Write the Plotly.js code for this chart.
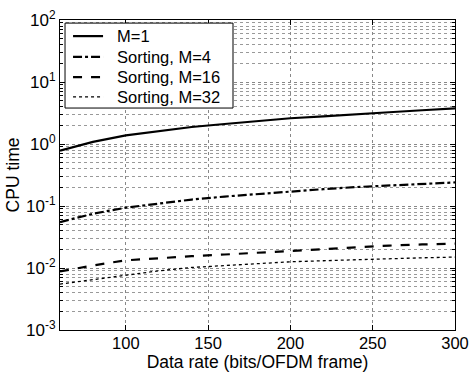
<!DOCTYPE html>
<html><head><meta charset="utf-8">
<script src="https://cdn.plot.ly/plotly-3.0.1.min.js"></script>
<style>html,body{margin:0;padding:0;background:#fff}</style>
</head><body>
<div id="chart" style="width:474px;height:372px"></div>
<script>
const dataRate = [60,80,100,120,140,160,180,200,220,240,260,280,300];
const cpuM1 = [0.78,1.08,1.38,1.63,1.88,2.1,2.35,2.6,2.8,3.05,3.25,3.5,3.75];
const cpuM4 = [0.055,0.075,0.094,0.11,0.127,0.142,0.157,0.173,0.187,0.202,0.215,0.228,0.24];
const cpuM16 = [0.0088,0.011,0.0133,0.0145,0.0155,0.0165,0.0177,0.019,0.0205,0.022,0.023,0.024,0.0248];
const cpuM32 = [0.0055,0.0065,0.0078,0.009,0.0102,0.011,0.012,0.0126,0.0131,0.0137,0.0142,0.0146,0.015];
const seriesNames = ["M=1","Sorting, M=4","Sorting, M=16","Sorting, M=32"];
const xTicks = [100,150,200,250,300];
const yTickVals = [1e-3,1e-2,1e-1,1,10,100];
const yTickText = ["10<sup>-3</sup>","10<sup>-2</sup>","10<sup>-1</sup>","10<sup>0</sup>","10<sup>1</sup>","10<sup>2</sup>"];

// minor log grid positions (2..9 within each decade)
const yMinor = [];
for (let d = -3; d < 2; d++) for (let m = 2; m <= 9; m++) yMinor.push(m * Math.pow(10, d));

const F = "Liberation Sans, Arial, Helvetica, sans-serif";
const styles = [
  {color:"#000",width:2.2,dash:"solid"},
  {color:"#000",width:2.2,dash:"dashdot"},
  {color:"#000",width:2.2,dash:"dash"},
  {color:"#000",width:1.3,dash:"dot"}
];
const series = [cpuM1,cpuM4,cpuM16,cpuM32];
const traces = series.map((ys,i)=>({x:dataRate,y:ys,name:seriesNames[i],mode:"lines",line:styles[i],showlegend:false}));

// custom legend (MATLAB-style box) in plot-area paper coordinates
const legRows = [0.948,0.881,0.816,0.752];
const shapes = [
  {type:"rect",xref:"paper",yref:"paper",x0:0.0127,x1:0.438,y0:0.716,y1:0.99,
   line:{color:"#000",width:1},fillcolor:"#fff",layer:"above"}
];
const annotations = [];
legRows.forEach((ry,i)=>{
  shapes.push({type:"line",xref:"paper",yref:"paper",x0:0.033,x1:0.109,y0:ry,y1:ry,line:styles[i],layer:"above"});
  annotations.push({xref:"paper",yref:"paper",x:0.139,y:ry,xanchor:"left",yanchor:"middle",showarrow:false,
    text:seriesNames[i],font:{family:F,size:16.5,color:"#000"}});
});

const layout = {
  width:474,height:372,
  margin:{l:60,r:19,t:20,b:42},
  paper_bgcolor:"#fff",plot_bgcolor:"#fff",
  font:{family:F,size:17,color:"#000"},
  showlegend:false,
  shapes:shapes,annotations:annotations,
  xaxis:{range:[60,300],tickvals:xTicks,ticks:"inside",ticklen:5,tickcolor:"#000",ticklabelstandoff:-2,
    showline:true,linecolor:"#000",linewidth:1,mirror:"ticks",
    showgrid:true,gridcolor:"#888",griddash:"dot",gridwidth:1,zeroline:false,
    tickfont:{family:F,size:16.5},
    title:{text:"Data rate (bits/OFDM frame)",font:{family:F,size:17.5},standoff:9}},
  yaxis:{type:"log",range:[-3,2],tickvals:yTickVals,ticktext:yTickText,ticks:"inside",ticklen:5,tickcolor:"#000",
    showline:true,linecolor:"#000",linewidth:1,mirror:"ticks",
    showgrid:true,gridcolor:"#888",griddash:"dot",gridwidth:1,zeroline:false,
    minor:{tickmode:"array",tickvals:yMinor,showgrid:true,gridcolor:"#999",griddash:"dot",gridwidth:1,ticks:"inside",ticklen:3,tickcolor:"#000"},
    tickfont:{family:F,size:17},
    title:{text:"CPU time",font:{family:F,size:17.5},standoff:1}}
};
Plotly.newPlot("chart",traces,layout,{displayModeBar:false,staticPlot:true});
</script>
</body></html>
